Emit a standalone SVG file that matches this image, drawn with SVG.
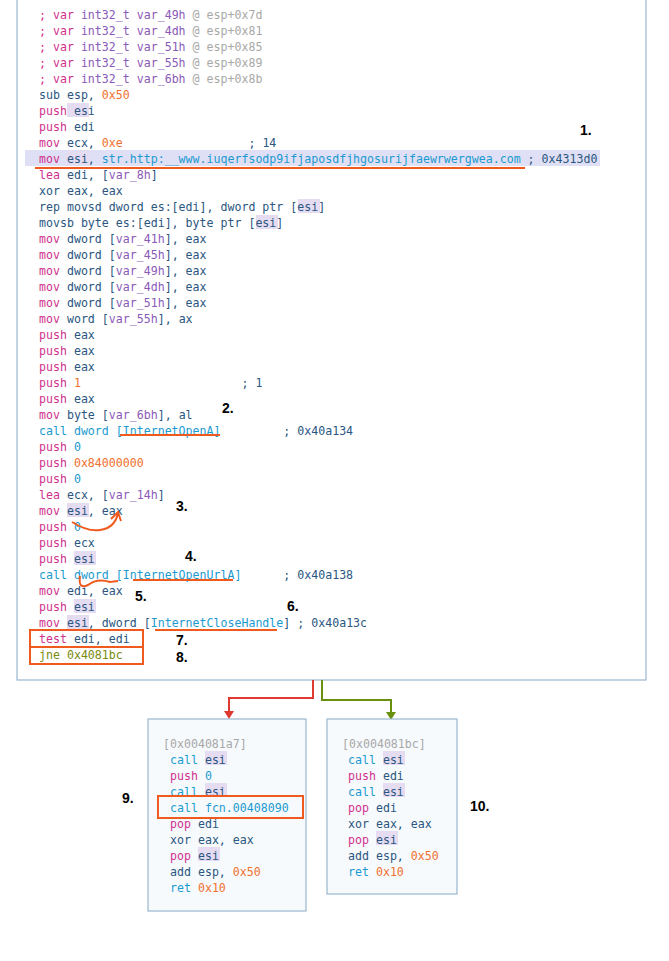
<svg xmlns="http://www.w3.org/2000/svg" width="669" height="961" viewBox="0 0 669 961">
<style>
text{font-family:"DejaVu Sans Mono","Liberation Mono",monospace;font-size:11.6px;fill:#2a5680;white-space:pre}
.m{fill:#d0308c}.c{fill:#1a9ad0}.d{fill:#2a5680}.n{fill:#f07030}.v{fill:#8a5ab8}.g{fill:#a8a8a8}.j{fill:#7a8a10}
.lab{font-family:"Liberation Sans",Arial,sans-serif;font-weight:bold;font-size:14px;fill:#000}
.box{fill:#f7fafd;stroke:#9ab7d0;stroke-width:1.2}
.hl{fill:#e6dcf2}
.o{fill:none;stroke:#f05a1e;stroke-width:2}
</style>
<rect width="669" height="961" fill="#fff"/>
<g id="main">
<rect class="box" x="17" y="-5" width="629" height="685" style="fill:#fff"/>
<rect x="25" y="150" width="575" height="16" fill="#dfe0f6"/>
<g id="hlreg">
<rect class="hl" x="67" y="103" width="22" height="14"/>
<rect class="hl" x="67" y="151" width="22" height="14"/>
<rect class="hl" x="67" y="503" width="22" height="14"/>
<rect class="hl" x="74" y="551" width="22" height="14"/>
<rect class="hl" x="74" y="599" width="22" height="14"/>
<rect class="hl" x="67" y="615" width="22" height="14"/>
<rect class="hl" x="298" y="199" width="22" height="14"/>
<rect class="hl" x="256" y="215" width="22" height="14"/>
</g>
<text x="39" y="18.5"><tspan class="m">; var </tspan><tspan class="v">int32_t var_49h </tspan><tspan class="g">@ esp+0x7d</tspan></text>
<text x="39" y="34.5"><tspan class="m">; var </tspan><tspan class="v">int32_t var_4dh </tspan><tspan class="g">@ esp+0x81</tspan></text>
<text x="39" y="50.5"><tspan class="m">; var </tspan><tspan class="v">int32_t var_51h </tspan><tspan class="g">@ esp+0x85</tspan></text>
<text x="39" y="66.5"><tspan class="m">; var </tspan><tspan class="v">int32_t var_55h </tspan><tspan class="g">@ esp+0x89</tspan></text>
<text x="39" y="82.5"><tspan class="m">; var </tspan><tspan class="v">int32_t var_6bh </tspan><tspan class="g">@ esp+0x8b</tspan></text>
<text x="39" y="98.5">sub esp, <tspan class="n">0x50</tspan></text>
<text x="39" y="114.5"><tspan class="m">push </tspan>esi</text>
<text x="39" y="130.5"><tspan class="m">push </tspan>edi</text>
<text x="39" y="146.5"><tspan class="m">mov </tspan>ecx, <tspan class="n">0xe</tspan>                  ; 14</text>
<text x="39" y="162.5"><tspan class="m">mov </tspan>esi, <tspan class="c">str.http:__www.iuqerfsodp9ifjaposdfjhgosurijfaewrwergwea.com</tspan> ; 0x4313d0</text>
<text x="39" y="178.5"><tspan class="m">lea </tspan>edi, [<tspan class="v">var_8h</tspan>]</text>
<text x="39" y="194.5">xor eax, eax</text>
<text x="39" y="210.5">rep movsd dword es:[edi], dword ptr [esi]</text>
<text x="39" y="226.5">movsb byte es:[edi], byte ptr [esi]</text>
<text x="39" y="242.5"><tspan class="m">mov </tspan>dword [<tspan class="v">var_41h</tspan>], eax</text>
<text x="39" y="258.5"><tspan class="m">mov </tspan>dword [<tspan class="v">var_45h</tspan>], eax</text>
<text x="39" y="274.5"><tspan class="m">mov </tspan>dword [<tspan class="v">var_49h</tspan>], eax</text>
<text x="39" y="290.5"><tspan class="m">mov </tspan>dword [<tspan class="v">var_4dh</tspan>], eax</text>
<text x="39" y="306.5"><tspan class="m">mov </tspan>dword [<tspan class="v">var_51h</tspan>], eax</text>
<text x="39" y="322.5"><tspan class="m">mov </tspan>word [<tspan class="v">var_55h</tspan>], ax</text>
<text x="39" y="338.5"><tspan class="m">push </tspan>eax</text>
<text x="39" y="354.5"><tspan class="m">push </tspan>eax</text>
<text x="39" y="370.5"><tspan class="m">push </tspan>eax</text>
<text x="39" y="386.5"><tspan class="m">push </tspan><tspan class="n">1</tspan>                       ; 1</text>
<text x="39" y="402.5"><tspan class="m">push </tspan>eax</text>
<text x="39" y="418.5"><tspan class="m">mov </tspan>byte [<tspan class="v">var_6bh</tspan>], al</text>
<text x="39" y="434.5"><tspan class="c">call dword [InternetOpenA]</tspan>         ; 0x40a134</text>
<text x="39" y="450.5"><tspan class="m">push </tspan><tspan class="c">0</tspan></text>
<text x="39" y="466.5"><tspan class="m">push </tspan><tspan class="n">0x84000000</tspan></text>
<text x="39" y="482.5"><tspan class="m">push </tspan><tspan class="c">0</tspan></text>
<text x="39" y="498.5"><tspan class="m">lea </tspan>ecx, [<tspan class="v">var_14h</tspan>]</text>
<text x="39" y="514.5"><tspan class="m">mov </tspan>esi, eax</text>
<text x="39" y="530.5"><tspan class="m">push </tspan><tspan class="c">0</tspan></text>
<text x="39" y="546.5"><tspan class="m">push </tspan>ecx</text>
<text x="39" y="562.5"><tspan class="m">push </tspan>esi</text>
<text x="39" y="578.5"><tspan class="c">call dword [InternetOpenUrlA]</tspan>      ; 0x40a138</text>
<text x="39" y="594.5"><tspan class="m">mov </tspan>edi, eax</text>
<text x="39" y="610.5"><tspan class="m">push </tspan>esi</text>
<text x="39" y="626.5"><tspan class="m">mov </tspan>esi, dword [<tspan class="c">InternetCloseHandle</tspan>] ; 0x40a13c</text>
<text x="39" y="642.5"><tspan class="m">test </tspan>edi, edi</text>
<text x="39" y="658.5" class="j">jne 0x4081bc</text>
</g>
<g id="connectors" fill="none" stroke-width="2">
<path d="M313 680 V698 H229 V712" stroke="#e03a30"/>
<path d="M224 711 L229 719 L234 711 Z" fill="#e03a30" stroke="none"/>
<path d="M322 680 V700 H391 V713" stroke="#6a9010"/>
<path d="M386 712 L391 720 L396 712 Z" fill="#6a9010" stroke="none"/>
</g>
<g id="node_4081a7">
<rect class="box" x="148" y="719" width="158" height="192"/>
<rect class="hl" x="205" y="751" width="22" height="14"/>
<rect class="hl" x="205" y="783" width="22" height="14"/>
<rect class="hl" x="198" y="847" width="22" height="14"/>
<text x="163" y="747.5" class="g">[0x004081a7]</text>
<text x="170" y="763.5"><tspan class="c">call </tspan>esi</text>
<text x="170" y="779.5"><tspan class="m">push </tspan><tspan class="c">0</tspan></text>
<text x="170" y="795.5"><tspan class="c">call </tspan>esi</text>
<text x="170" y="811.5" class="c">call fcn.00408090</text>
<text x="170" y="827.5"><tspan class="m">pop </tspan>edi</text>
<text x="170" y="843.5">xor eax, eax</text>
<text x="170" y="859.5"><tspan class="m">pop </tspan>esi</text>
<text x="170" y="875.5">add esp, <tspan class="n">0x50</tspan></text>
<text x="170" y="891.5"><tspan class="c">ret </tspan><tspan class="n">0x10</tspan></text>
</g>
<g id="node_4081bc">
<rect class="box" x="327" y="719" width="130" height="175"/>
<rect class="hl" x="383" y="751" width="22" height="14"/>
<rect class="hl" x="383" y="783" width="22" height="14"/>
<rect class="hl" x="376" y="831" width="22" height="14"/>
<text x="342" y="747.5" class="g">[0x004081bc]</text>
<text x="348" y="763.5"><tspan class="c">call </tspan>esi</text>
<text x="348" y="779.5"><tspan class="m">push </tspan>edi</text>
<text x="348" y="795.5"><tspan class="c">call </tspan>esi</text>
<text x="348" y="811.5"><tspan class="m">pop </tspan>edi</text>
<text x="348" y="827.5">xor eax, eax</text>
<text x="348" y="843.5"><tspan class="m">pop </tspan>esi</text>
<text x="348" y="859.5">add esp, <tspan class="n">0x50</tspan></text>
<text x="348" y="875.5"><tspan class="c">ret </tspan><tspan class="n">0x10</tspan></text>
</g>
<g id="annotations">
<line class="o" x1="35" y1="168" x2="525" y2="168"/>
<line class="o" x1="120" y1="435" x2="220" y2="435"/>
<line class="o" x1="133" y1="580" x2="233" y2="580"/>
<line class="o" x1="155" y1="630" x2="277" y2="630"/>
<path class="o" d="M72 522 Q88 532 100 530 Q115 528 118 513 M111 519 L118 512 L121 521"/>
<path class="o" d="M80 576 Q78 590 88 585 Q97 578 110 582 L118 581"/>
<rect class="o" x="30" y="630" width="113" height="17"/>
<rect class="o" x="30" y="647" width="113" height="17"/>
<rect class="o" x="158" y="796" width="145" height="22"/>
<text class="lab" x="580" y="135">1.</text>
<text class="lab" x="222" y="413">2.</text>
<text class="lab" x="176" y="511">3.</text>
<text class="lab" x="185" y="561">4.</text>
<text class="lab" x="135" y="601">5.</text>
<text class="lab" x="287" y="611">6.</text>
<text class="lab" x="176" y="645">7.</text>
<text class="lab" x="176" y="662">8.</text>
<text class="lab" x="122" y="803">9.</text>
<text class="lab" x="470" y="811">10.</text>
</g>
</svg>
